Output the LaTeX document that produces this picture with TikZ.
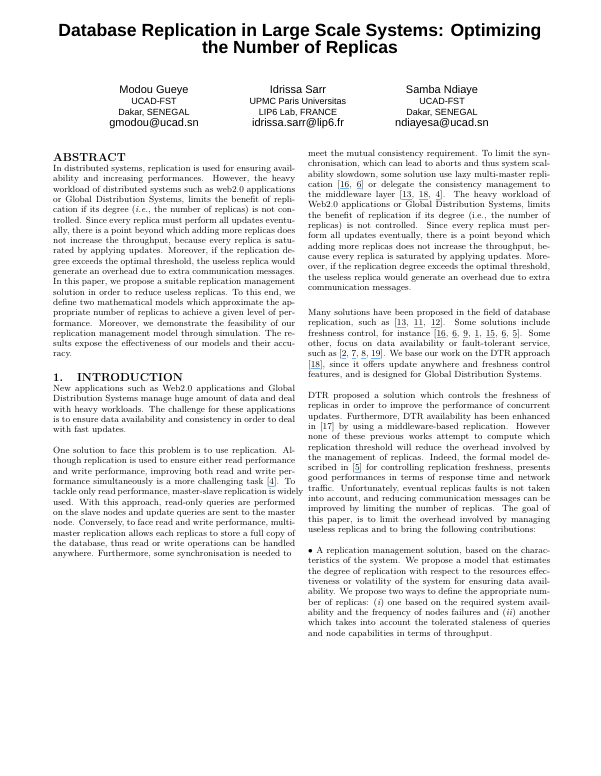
\documentclass[tikz,border=0pt]{standalone}
\usepackage{fontspec}
\newfontfamily\hv{Liberation Sans}
\definecolor{lnk}{rgb}{0.45,0.7,0.95}
\newcommand\lk[1]{\leavevmode\setbox0\hbox{#1}\rlap{\color{lnk}\rule[-1.6pt]{\wd0}{0.6pt}}\box0}
\tikzset{
  col/.style={anchor=north west,inner sep=0pt,text width=242pt,align=justify,
    font=\fontsize{9}{10.3}\selectfont},
  head/.style={anchor=west,inner sep=0pt,font=\fontsize{11.5}{13}\selectfont\bfseries},
  auth/.style={align=center,inner sep=0pt,anchor=north}
}
\begin{document}
\begin{tikzpicture}[x=1pt,y=-1pt]
\useasboundingbox (0,0) rectangle (600,776);
\fill[white] (0,0) rectangle (600,776);
% title
\node[inner sep=0pt] (t1) at (300,32) {\resizebox{483pt}{!}{\hv\bfseries Database Replication in Large Scale Systems: Optimizing}};
\node[inner sep=0pt,font=\hv\bfseries] (t2) at (300,49) {\resizebox{196pt}{!}{\hv\bfseries the Number of Replicas}};
% authors
\node[auth] (a1) at (154,85) {{\hv\fontsize{11}{10.3}\selectfont Modou Gueye}\\[-1pt]{\hv\fontsize{9}{10.3}\selectfont UCAD-FST}\\[-1pt]{\hv\fontsize{9}{10.3}\selectfont Dakar, SENEGAL}\\[-1pt]{\hv\fontsize{11}{10.3}\selectfont gmodou@ucad.sn}};
\node[auth] (a2) at (298,85) {{\hv\fontsize{11}{10.3}\selectfont Idrissa Sarr}\\[-1pt]{\hv\fontsize{9}{10.3}\selectfont UPMC Paris Universitas}\\[-1pt]{\hv\fontsize{9}{10.3}\selectfont LIP6 Lab, FRANCE}\\[-1pt]{\hv\fontsize{11}{10.3}\selectfont idrissa.sarr@lip6.fr}};
\node[auth] (a3) at (442,85) {{\hv\fontsize{11}{10.3}\selectfont Samba Ndiaye}\\[-1pt]{\hv\fontsize{9}{10.3}\selectfont UCAD-FST}\\[-1pt]{\hv\fontsize{9}{10.3}\selectfont Dakar, SENEGAL}\\[-1pt]{\hv\fontsize{11}{10.3}\selectfont ndiayesa@ucad.sn}};
% left column
\node[head] (hab) at (53,158) {ABSTRACT};
\node[col] (abs) at (53,165) {\tolerance=10000\hbadness=10000
In distributed systems, replication is used for ensuring avail-\linebreak
ability and increasing performances. However, the heavy\linebreak
workload of distributed systems such as web2.0 applications\linebreak
or Global Distribution Systems, limits the benefit of repli-\linebreak
cation if its degree (\textit{i.e.}, the number of replicas) is not con-\linebreak
trolled. Since every replica must perform all updates eventu-\linebreak
ally, there is a point beyond which adding more replicas does\linebreak
not increase the throughput, because every replica is satu-\linebreak
rated by applying updates. Moreover, if the replication de-\linebreak
gree exceeds the optimal threshold, the useless replica would\linebreak
generate an overhead due to extra communication messages.\linebreak
In this paper, we propose a suitable replication management\linebreak
solution in order to reduce useless replicas. To this end, we\linebreak
define two mathematical models which approximate the ap-\linebreak
propriate number of replicas to achieve a given level of per-\linebreak
formance. Moreover, we demonstrate the feasibility of our\linebreak
replication management model through simulation. The re-\linebreak
sults expose the effectiveness of our models and their accu-\linebreak
racy.};
\node[head] (hin) at (53,378) {1.\hspace{1.2em}INTRODUCTION};
\node[col] (in1) at (53,385) {\tolerance=10000\hbadness=10000
New applications such as Web2.0 applications and Global\linebreak
Distribution Systems manage huge amount of data and deal\linebreak
with heavy workloads. The challenge for these applications\linebreak
is to ensure data availability and consistency in order to deal\linebreak
with fast updates.};
\node[col] (in2) at (53,447) {\tolerance=10000\hbadness=10000\parfillskip=0pt
One solution to face this problem is to use replication. Al-\linebreak
though replication is used to ensure either read performance\linebreak
and write performance, improving both read and write per-\linebreak
formance simultaneously is a more challenging task [\lk{4}]. To\linebreak
\hbox to \linewidth{tackle only read performance, master-slave replication is widely}\linebreak
used. With this approach, read-only queries are performed\linebreak
on the slave nodes and update queries are sent to the master\linebreak
node. Conversely, to face read and write performance, multi-\linebreak
master replication allows each replicas to store a full copy of\linebreak
the database, thus read or write operations can be handled\linebreak
anywhere. Furthermore, some synchronisation is needed to};
% right column
\node[col] (r1) at (308,150) {\tolerance=10000\hbadness=10000
meet the mutual consistency requirement. To limit the syn-\linebreak
chronisation, which can lead to aborts and thus system scal-\linebreak
ability slowdown, some solution use lazy multi-master repli-\linebreak
cation [\lk{16}, \lk{6}] or delegate the consistency management to\linebreak
the middleware layer [\lk{13}, \lk{18}, \lk{4}]. The heavy workload of\linebreak
Web2.0 applications or Global Distribution Systems, limits\linebreak
the benefit of replication if its degree (i.e., the number of\linebreak
replicas) is not controlled. Since every replica must per-\linebreak
form all updates eventually, there is a point beyond which\linebreak
adding more replicas does not increase the throughput, be-\linebreak
cause every replica is saturated by applying updates. More-\linebreak
over, if the replication degree exceeds the optimal threshold,\linebreak
the useless replica would generate an overhead due to extra\linebreak
communication messages.};
\node[col] (r2) at (308,309) {\tolerance=10000\hbadness=10000
Many solutions have been proposed in the field of database\linebreak
replication, such as [\lk{13}, \lk{11}, \lk{12}]. Some solutions include\linebreak
freshness control, for instance [\lk{16}, \lk{6}, \lk{9}, \lk{1}, \lk{15}, \lk{6}, \lk{5}]. Some\linebreak
other, focus on data availability or fault-tolerant service,\linebreak
such as [\lk{2}, \lk{7}, \lk{8}, \lk{19}]. We base our work on the DTR approach\linebreak
{[}\lk{18}], since it offers update anywhere and freshness control\linebreak
features, and is designed for Global Distribution Systems.};
\node[col] (r3) at (308,392) {\tolerance=10000\hbadness=10000
DTR proposed a solution which controls the freshness of\linebreak
replicas in order to improve the performance of concurrent\linebreak
updates. Furthermore, DTR availability has been enhanced\linebreak
in [17] by using a middleware-based replication. However\linebreak
none of these previous works attempt to compute which\linebreak
replication threshold will reduce the overhead involved by\linebreak
the management of replicas. Indeed, the formal model de-\linebreak
scribed in [\lk{5}] for controlling replication freshness, presents\linebreak
good performances in terms of response time and network\linebreak
traffic. Unfortunately, eventual replicas faults is not taken\linebreak
into account, and reducing communication messages can be\linebreak
improved by limiting the number of replicas. The goal of\linebreak
this paper, is to limit the overhead involved by managing\linebreak
useless replicas and to bring the following contributions:};
\node[col] (r4) at (308,547) {\tolerance=10000\hbadness=10000
$\bullet$ A replication management solution, based on the charac-\linebreak
teristics of the system. We propose a model that estimates\linebreak
the degree of replication with respect to the resources effec-\linebreak
tiveness or volatility of the system for ensuring data avail-\linebreak
ability. We propose two ways to define the appropriate num-\linebreak
ber of replicas: (\textit{i}) one based on the required system avail-\linebreak
ability and the frequency of nodes failures and (\textit{ii}) another\linebreak
which takes into account the tolerated staleness of queries\linebreak
and node capabilities in terms of throughput.};
\end{tikzpicture}
\end{document}
